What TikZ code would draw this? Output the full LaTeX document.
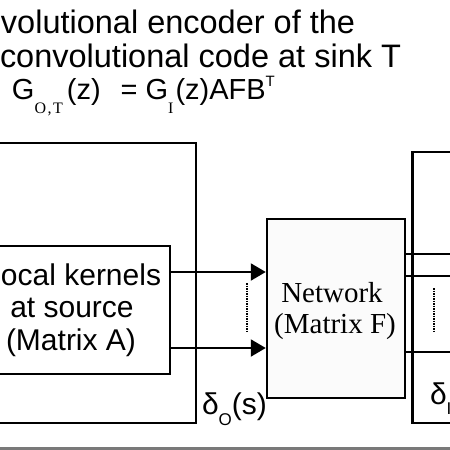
\documentclass[tikz,border=0pt]{standalone}
\usepackage{fontspec}
\setmainfont{Liberation Sans}
\newfontfamily\serifft{Liberation Serif}
\usetikzlibrary{arrows.meta}
\tikzset{
  box/.style={line width=2.5pt},
  wire/.style={line width=2.2pt},
  arr/.style={wire,-{Triangle[length=15pt,width=17pt]}},
  dots/.style={line width=1.6pt,dash pattern=on 1.5pt off 1pt},
  txt/.style={inner sep=0pt,outer sep=0pt},
}
\newcommand{\fbigtitle}{\fontsize{32.5}{34}\selectfont}
\newcommand{\feqtext}{\fontsize{29}{31}\selectfont}
\newcommand{\fmidtext}{\fontsize{30}{32}\selectfont}
\newcommand{\fsubtext}{\fontsize{16}{16}\selectfont}
\begin{document}
\begin{tikzpicture}[x=1pt,y=-1pt]
\useasboundingbox (0,0) rectangle (450,450);
\clip (0,0) rectangle (450,450);
% title
\node[txt,anchor=base west] (t1) at (1,33) {\fbigtitle volutional encoder of the};
\node[txt,anchor=base west] (t2) at (0,67) {\fbigtitle convolutional code at sink T};
\node[txt,anchor=base west] (t3) at (12,99) {\feqtext G\raisebox{-14pt}{\serifft\fsubtext O\kern1.5pt,\kern1.5pt T}\kern4pt(z)\kern20pt=\kern8pt G\raisebox{-14pt}{\serifft\fsubtext I}\kern2pt(z)AFB\raisebox{13pt}{\fontsize{15}{15}\selectfont T}};
% left boxes
\draw[box,fill=white] (-10,143) rectangle (196,423);
\draw[box,fill=white] (-10,246) rectangle (170,374);
\node[txt,anchor=base west] (a1) at (1,285) {\fmidtext ocal kernels};
\node[txt,anchor=base] (a2) at (72,317) {\fmidtext at source};
\node[txt,anchor=base] (a3) at (71,350) {\fmidtext (Matrix A)};
% network box
\node[box,draw,fill=gray!3,minimum width=138pt,minimum height=179pt,inner sep=0pt] (net) at (336,308.5) {};
\node[txt,anchor=base] (n1) at (332,302) {\serifft\fontsize{29}{31}\selectfont Network};
\node[txt,anchor=base] (n2) at (335,333) {\serifft\fontsize{29}{31}\selectfont (Matrix F)};
% arrows into network
\coordinate (s1) at (170,272);
\coordinate (s2) at (170,348);
\draw[arr] (s1) -- (s1 -| net.west);
\draw[arr] (s2) -- (s2 -| net.west);
\coordinate (d1) at (247,283);
\coordinate (d2) at (247,331);
\draw[dots] (d1) -- (d2);
\node[txt,anchor=base west] (dO) at (202,414) {\fmidtext δ\raisebox{-11pt}{\fontsize{17}{17}\selectfont O}(s)};
% right box
\draw[box,fill=white] (412.5,152) rectangle (470,423);
\coordinate (r1) at (net.east |- 0,254);
\coordinate (r2) at (net.east |- 0,276);
\coordinate (r3) at (net.east |- 0,352);
\coordinate (e1) at (460,254);
\coordinate (e2) at (460,276);
\coordinate (e3) at (460,352);
\draw[wire] (r1) -- (e1);
\draw[wire] (r2) -- (e2);
\draw[wire] (r3) -- (e3);
\coordinate (d3) at (434,288);
\coordinate (d4) at (434,333);
\draw[dots] (d3) -- (d4);
\node[txt,anchor=base west] (dI) at (430,404) {\fmidtext δ\raisebox{-10pt}{\fontsize{17}{17}\selectfont I}};
% bottom bar
\fill[gray!95!black] (0,447) rectangle (450,450);
\end{tikzpicture}
\end{document}
